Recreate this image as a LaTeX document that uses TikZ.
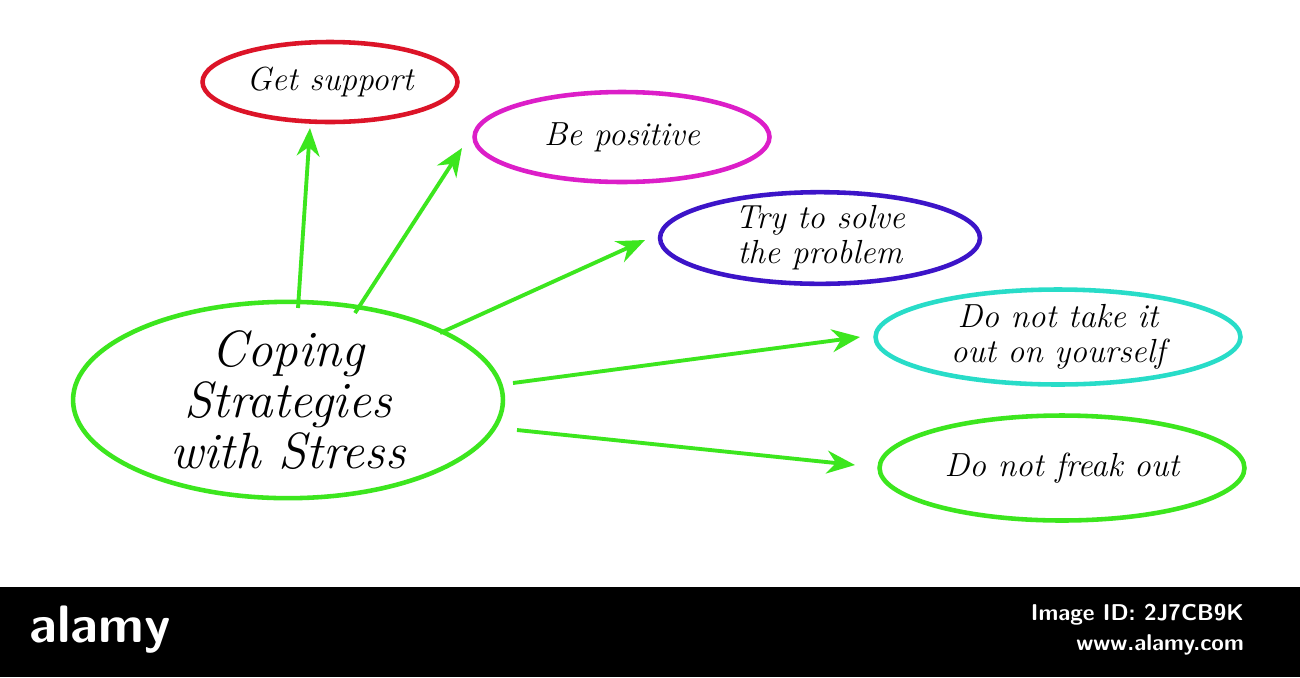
\documentclass[tikz,border=0pt]{standalone}
\usepackage{fontspec}
\usetikzlibrary{shapes.geometric,arrows.meta}
\begin{document}
\begin{tikzpicture}[x=0.02cm,y=-0.02cm,
  bub/.style={draw,ellipse,line width=2.6pt,inner sep=0pt,font=\itshape\fontsize{19}{20}\selectfont,align=center},
  arr/.style={draw={rgb,255:red,60;green,230;blue,30},line width=2.2pt,-{Stealth[length=16pt,width=13pt]}}]
\definecolor{gr}{RGB}{60,230,30}
\useasboundingbox (0,0) rectangle (1300,677);
\fill[white] (0,0) rectangle (1300,587);
\fill[black] (0,587) rectangle (1300,677);
\node[bub,draw=gr,minimum width=8.6cm,minimum height=3.5cm,font=\itshape\fontsize{29}{29}\selectfont] (c) at (288,400) {Coping\\Strategies\\with Stress};
\node[bub,draw={rgb,255:red,220;green,20;blue,40},minimum width=5.1cm,minimum height=1.6cm] (gs) at (330,82) {Get support};
\node[bub,draw={rgb,255:red,220;green,30;blue,200},minimum width=5.9cm,minimum height=1.8cm] (bp) at (622,137) {Be positive};
\node[bub,draw={rgb,255:red,60;green,20;blue,200},minimum width=6.4cm,minimum height=1.75cm] (ts) at (820,238) {Try to solve\\the problem};
\node[bub,draw={rgb,255:red,40;green,220;blue,200},minimum width=7.3cm,minimum height=1.9cm] (dt) at (1058,337) {Do not take it\\out on yourself};
\node[bub,draw=gr,minimum width=7.3cm,minimum height=2.1cm] (df) at (1062,468) {Do not freak out};
\coordinate (s1) at (298,308); \coordinate (e1) at (310,128);
\coordinate (s2) at (355,313); \coordinate (e2) at (462,148);
\coordinate (s3) at (440,333); \coordinate (e3) at (645,240);
\coordinate (s4) at (513,383); \coordinate (e4) at (860,337);
\coordinate (s5) at (517,430); \coordinate (e5) at (855,465);
\draw[arr] (s1) -- (e1);
\draw[arr] (s2) -- (e2);
\draw[arr] (s3) -- (e3);
\draw[arr] (s4) -- (e4);
\draw[arr] (s5) -- (e5);
\node[white,font=\sffamily\bfseries\fontsize{30}{32}\selectfont] (al) at (100,630) {alamy};
\node[white,font=\sffamily\bfseries\fontsize{13}{17}\selectfont,align=right,anchor=east] (id) at (1250,630) {Image ID: 2J7CB9K\\www.alamy.com};
\end{tikzpicture}
\end{document}
